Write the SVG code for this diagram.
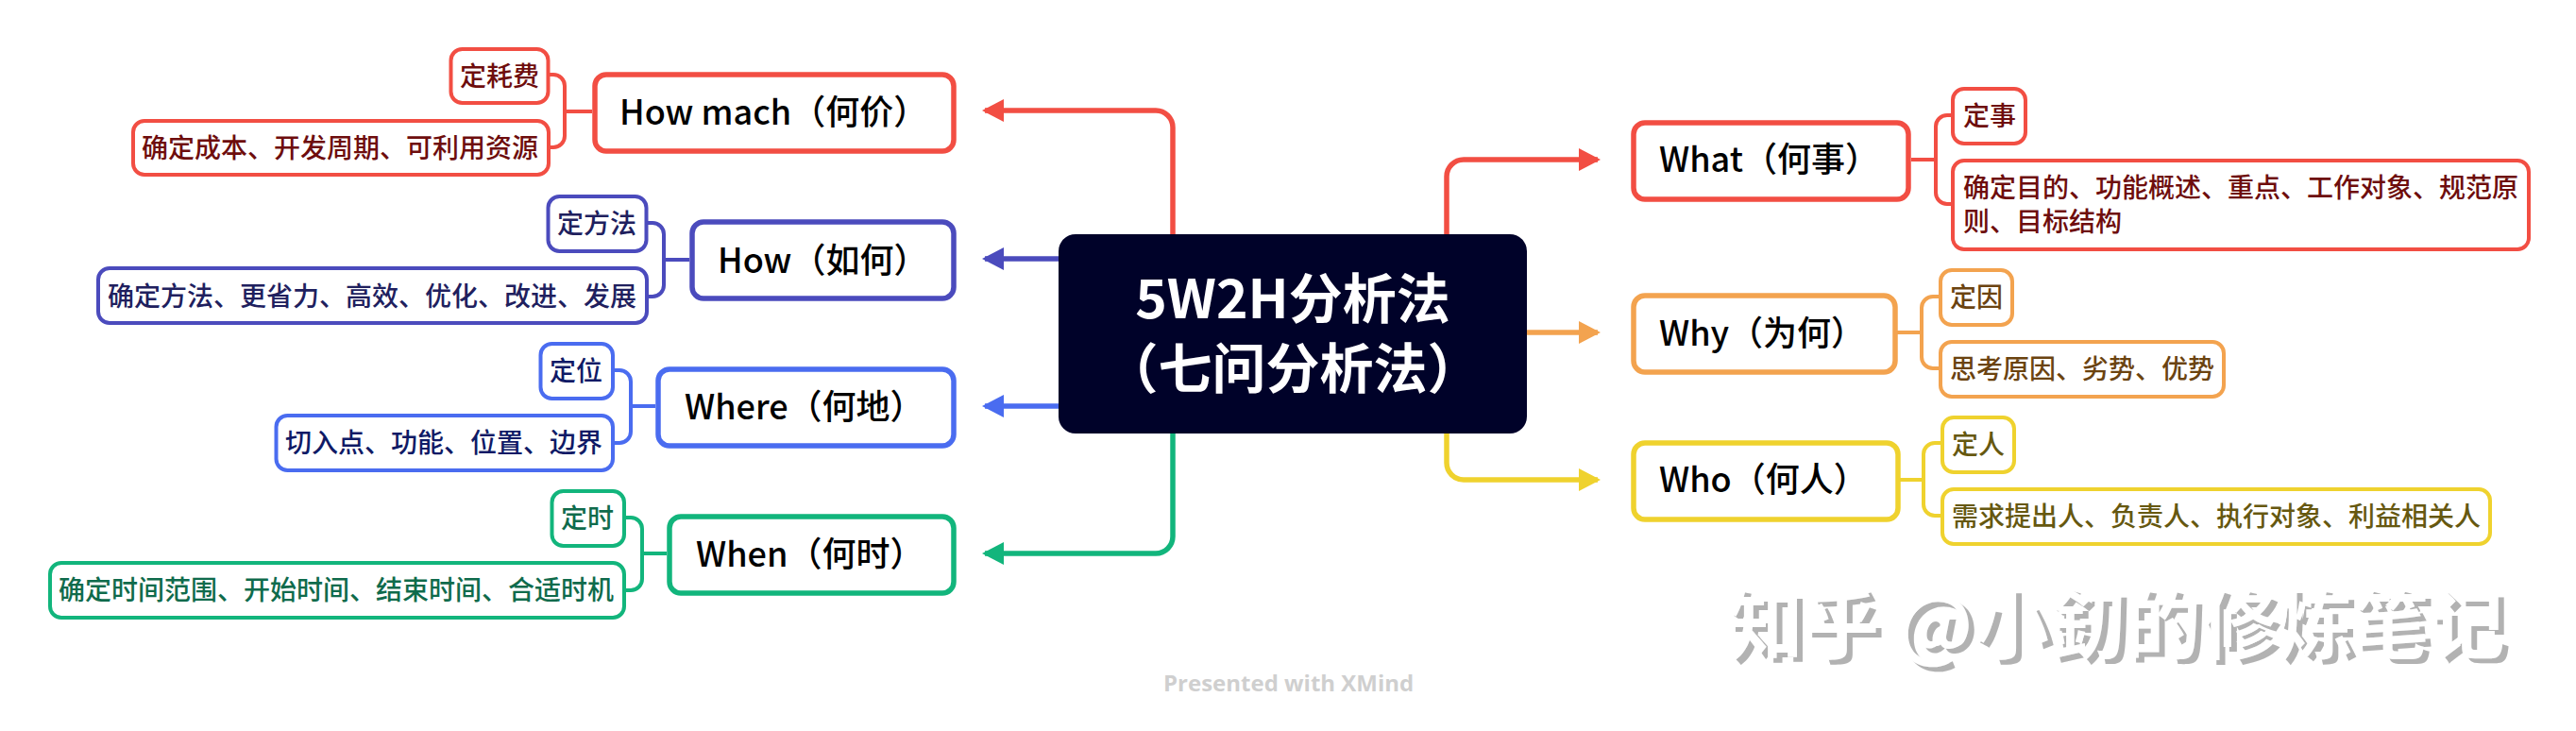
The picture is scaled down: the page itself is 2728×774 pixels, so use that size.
<svg xmlns="http://www.w3.org/2000/svg" width="2728" height="774" viewBox="0 0 2728 774">
<style>
text{font-family:"Noto Sans CJK SC","Noto Sans",sans-serif}
.m{font-size:36px;font-weight:500;fill:#000;dominant-baseline:central}
.c{font-size:28px;font-weight:500;dominant-baseline:central;transform:translateY(1px)}
.t{font-size:57px;font-weight:700;fill:#fff;text-anchor:middle;dominant-baseline:central}
.mb,.cb{fill:#fff}
.mb{stroke-width:5.5}
.cb{stroke-width:4}
.l{fill:none;stroke-width:5.5}
.b{fill:none;stroke-width:4}
.red{stroke:#f24e43}.pur{stroke:#4b4bbd}.blu{stroke:#4a6cf0}.grn{stroke:#12b57c}.org{stroke:#f3a34f}.yel{stroke:#efd22e}
.tr{fill:#6e0d0d}.tp{fill:#20205e}.tb{fill:#0f1a66}.tg{fill:#0f6b4c}.to{fill:#6b4310}.ty{fill:#665810}
.w{font-size:80.5px;font-weight:700;fill:#fff;filter:url(#wm)}
</style>
<defs>
<filter id="wm" x="-5%" y="-20%" width="110%" height="140%"><feOffset in="SourceAlpha" dx="6" dy="5" result="o"/><feFlood flood-color="#b2b2b2"/><feComposite in2="o" operator="in" result="s"/><feMerge><feMergeNode in="s"/><feMergeNode in="SourceGraphic"/></feMerge></filter>
<marker id="ared" markerUnits="userSpaceOnUse" markerWidth="24" markerHeight="24" refX="20" refY="12" orient="auto"><path d="M0 0L23 12L0 24Z" fill="#f24e43"/></marker>
<marker id="apur" markerUnits="userSpaceOnUse" markerWidth="24" markerHeight="24" refX="20" refY="12" orient="auto"><path d="M0 0L23 12L0 24Z" fill="#4b4bbd"/></marker>
<marker id="ablu" markerUnits="userSpaceOnUse" markerWidth="24" markerHeight="24" refX="20" refY="12" orient="auto"><path d="M0 0L23 12L0 24Z" fill="#4a6cf0"/></marker>
<marker id="agrn" markerUnits="userSpaceOnUse" markerWidth="24" markerHeight="24" refX="20" refY="12" orient="auto"><path d="M0 0L23 12L0 24Z" fill="#12b57c"/></marker>
<marker id="aorg" markerUnits="userSpaceOnUse" markerWidth="24" markerHeight="24" refX="20" refY="12" orient="auto"><path d="M0 0L23 12L0 24Z" fill="#f3a34f"/></marker>
<marker id="ayel" markerUnits="userSpaceOnUse" markerWidth="24" markerHeight="24" refX="20" refY="12" orient="auto"><path d="M0 0L23 12L0 24Z" fill="#efd22e"/></marker>
</defs>
<rect width="2728" height="774" fill="#fff"/>
<g id="connectors">
<path class="l red" marker-end="url(#ared)" d="M1242 250V135a18 18 0 0 0-18-18H1043"/>
<path class="l pur" marker-end="url(#apur)" d="M1125 274H1043"/>
<path class="l blu" marker-end="url(#ablu)" d="M1125 430H1043"/>
<path class="l grn" marker-end="url(#agrn)" d="M1242 456V568a18 18 0 0 1-18 18H1043"/>
<path class="l red" marker-end="url(#ared)" d="M1532 250V187a18 18 0 0 1 18-18H1692"/>
<path class="l org" marker-end="url(#aorg)" d="M1613 352H1692"/>
<path class="l yel" marker-end="url(#ayel)" d="M1532 456V490a18 18 0 0 0 18 18H1692"/>
<path class="b red" d="M627 118H598M581 79h5a12 12 0 0 1 12 12V144a12 12 0 0 1-12 12h-5"/>
<path class="b pur" d="M730 275H703M686 236h5a12 12 0 0 1 12 12V302a12 12 0 0 1-12 12h-5"/>
<path class="b blu" d="M694 430H668M651 392h5a12 12 0 0 1 12 12V457a12 12 0 0 1-12 12h-5"/>
<path class="b grn" d="M706 586H680M663 548h5a12 12 0 0 1 12 12V613a12 12 0 0 1-12 12h-5"/>
<path class="b red" d="M2024 169H2050M2066 122h-4a12 12 0 0 0-12 12V204a12 12 0 0 0 12 12h4"/>
<path class="b org" d="M2009 352H2035M2053 314h-6a12 12 0 0 0-12 12V378a12 12 0 0 0 12 12h6"/>
<path class="b yel" d="M2012 508H2037M2056 469h-7a12 12 0 0 0-12 12V534a12 12 0 0 0 12 12h7"/>
</g>
<g id="center"><rect x="1121" y="248" width="496" height="211" rx="18" fill="#000229"/><text class="t" x="1369" y="312">5W2H分析法</text><text class="t" x="1369" y="386">（七问分析法）</text></g>

<g id="howmuch"><rect class="mb red" x="630" y="79" width="380" height="81" rx="12"/><text class="m" x="656" y="116">How mach（何价）</text></g>
<g id="howmuch-1"><rect class="cb red" x="477.5" y="52" width="103" height="57" rx="12"/><text class="c tr" x="487" y="78">定耗费</text></g>
<g id="howmuch-2"><rect class="cb red" x="141" y="128" width="440" height="57" rx="12"/><text class="c tr" x="150" y="154">确定成本、开发周期、可利用资源</text></g>

<g id="how"><rect class="mb pur" x="733" y="235" width="277" height="81" rx="12"/><text class="m" x="760" y="273">How（如何）</text></g>
<g id="how-1"><rect class="cb pur" x="580.5" y="208" width="104" height="58" rx="12"/><text class="c tp" x="590" y="234">定方法</text></g>
<g id="how-2"><rect class="cb pur" x="104" y="284" width="581" height="58" rx="12"/><text class="c tp" x="114" y="311">确定方法、更省力、高效、优化、改进、发展</text></g>

<g id="where"><rect class="mb blu" x="697" y="391" width="313" height="81" rx="12"/><text class="m" x="725" y="428">Where（何地）</text></g>
<g id="where-1"><rect class="cb blu" x="572.5" y="364" width="76.5" height="58" rx="12"/><text class="c tb" x="582" y="390">定位</text></g>
<g id="where-2"><rect class="cb blu" x="292.5" y="440" width="356.5" height="58" rx="12"/><text class="c tb" x="302" y="466">切入点、功能、位置、边界</text></g>

<g id="when"><rect class="mb grn" x="709" y="547" width="301" height="81" rx="12"/><text class="m" x="737" y="584">When（何时）</text></g>
<g id="when-1"><rect class="cb grn" x="584.5" y="520" width="76.5" height="58" rx="12"/><text class="c tg" x="594" y="546">定时</text></g>
<g id="when-2"><rect class="cb grn" x="53" y="596" width="608" height="58" rx="12"/><text class="c tg" x="62" y="622">确定时间范围、开始时间、结束时间、合适时机</text></g>

<g id="what"><rect class="mb red" x="1730" y="130" width="291" height="81" rx="12"/><text class="m" x="1757" y="166">What（何事）</text></g>
<g id="what-1"><rect class="cb red" x="2068" y="94" width="77" height="58" rx="12"/><text class="c tr" x="2079" y="120">定事</text></g>
<g id="what-2"><rect class="cb red" x="2068" y="170" width="610" height="94" rx="12"/><text class="c tr" x="2079" y="196">确定目的、功能概述、重点、工作对象、规范原</text><text class="c tr" x="2079" y="232">则、目标结构</text></g>

<g id="why"><rect class="mb org" x="1730" y="313" width="277" height="81" rx="12"/><text class="m" x="1757" y="350">Why（为何）</text></g>
<g id="why-1"><rect class="cb org" x="2055" y="286" width="76" height="58" rx="12"/><text class="c to" x="2065" y="312">定因</text></g>
<g id="why-2"><rect class="cb org" x="2055" y="362" width="300" height="58" rx="12"/><text class="c to" x="2065" y="388">思考原因、劣势、优势</text></g>

<g id="who"><rect class="mb yel" x="1730" y="469" width="280" height="81" rx="12"/><text class="m" x="1757" y="505">Who（何人）</text></g>
<g id="who-1"><rect class="cb yel" x="2057" y="442" width="76" height="58" rx="12"/><text class="c ty" x="2067" y="468">定人</text></g>
<g id="who-2"><rect class="cb yel" x="2057" y="518" width="580" height="58" rx="12"/><text class="c ty" x="2067" y="544">需求提出人、负责人、执行对象、利益相关人</text></g>

<text x="1232" y="732" font-size="24" font-weight="700" fill="#cfcfcf" style="font-family:'Open Sans',sans-serif">Presented with XMind</text>
<text class="w" x="1829" y="691" xml:space="preserve">知乎 @小釖的修炼笔记</text>
</svg>
